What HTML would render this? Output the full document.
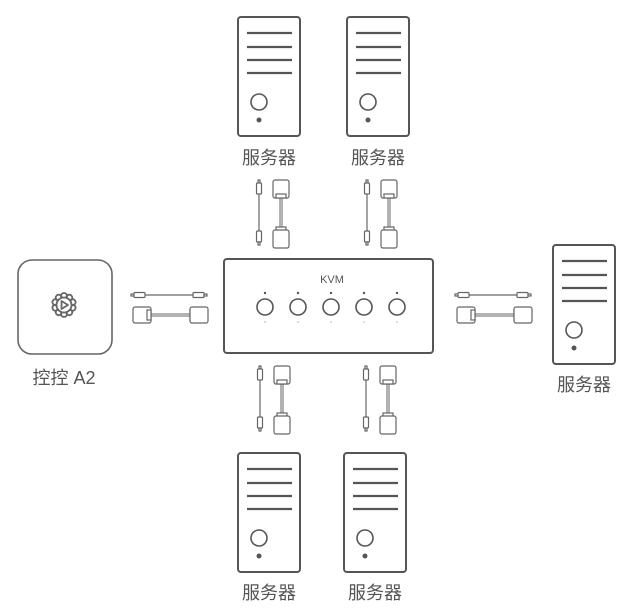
<!DOCTYPE html>
<html><head><meta charset="utf-8"><style>
html,body{margin:0;padding:0;background:#fff;}
svg{display:block;}
text{font-family:"Liberation Sans","Noto Sans CJK SC",sans-serif;fill:#555;}
</style></head><body>
<svg width="640" height="613" viewBox="0 0 640 613" xmlns="http://www.w3.org/2000/svg">
<defs>
<g id="srv">
<rect x="1" y="1" width="62" height="119" rx="3" fill="#fff" stroke="#555" stroke-width="2"/>
<g stroke="#555" stroke-width="2.2">
<line x1="10" y1="17" x2="55" y2="17"/><line x1="10" y1="31" x2="55" y2="31"/>
<line x1="10" y1="44" x2="55" y2="44"/><line x1="10" y1="57" x2="55" y2="57"/>
</g>
<circle cx="22" cy="86" r="8" fill="none" stroke="#555" stroke-width="1.6"/>
<circle cx="22" cy="104" r="2.5" fill="#555"/>
</g>
<g id="vc">
<g fill="#fff" stroke="#666" stroke-width="1.2">
<rect x="-1" y="0" width="2" height="3"/>
<rect x="-2.5" y="3" width="5" height="11" rx="1"/>
<line x1="0" y1="14" x2="0" y2="51"/>
<rect x="-2.5" y="51" width="5" height="11" rx="1"/>
<rect x="-1" y="62" width="2" height="3"/>
<rect x="14" y="0" width="16" height="18" rx="2"/>
<rect x="17" y="14" width="10" height="4"/>
<line x1="21" y1="18" x2="21" y2="50" stroke-width="1"/>
<line x1="23" y1="18" x2="23" y2="50" stroke-width="1"/>
<rect x="17" y="47" width="10" height="4"/>
<rect x="14" y="50" width="16" height="18" rx="2"/>
</g>
</g>
<g id="hc">
<g fill="#fff" stroke="#666" stroke-width="1.2">
<rect x="0" y="-1" width="3" height="2"/>
<rect x="3" y="-2.5" width="11" height="5" rx="1"/>
<line x1="14" y1="0" x2="62" y2="0"/>
<rect x="62" y="-2.5" width="11" height="5" rx="1"/>
<rect x="73" y="-1" width="3" height="2"/>
<rect x="2" y="12" width="18" height="16" rx="2"/>
<rect x="16" y="15" width="4" height="10"/>
<line x1="20" y1="19" x2="59" y2="19" stroke-width="1"/>
<line x1="20" y1="21" x2="59" y2="21" stroke-width="1"/>
<rect x="59" y="15" width="4" height="10"/>
<rect x="59" y="12" width="18" height="16" rx="2"/>
</g>
</g>
</defs>

<use href="#srv" x="237" y="16"/>
<use href="#srv" x="346" y="16"/>
<use href="#srv" x="552" y="244"/>
<use href="#srv" x="237" y="452"/>
<use href="#srv" x="343" y="452"/>

<g font-size="18" text-anchor="middle">
<text x="269" y="164">服务器</text>
<text x="378" y="164">服务器</text>
<text x="584" y="391">服务器</text>
<text x="269" y="599">服务器</text>
<text x="375" y="599">服务器</text>
<text x="64" y="384">控控 A2</text>
</g>

<use href="#vc" x="259" y="180"/>
<use href="#vc" x="367" y="180"/>
<use href="#vc" x="260" y="366"/>
<use href="#vc" x="366" y="366"/>
<use href="#hc" x="131" y="295"/>
<use href="#hc" x="455" y="295"/>

<rect x="224" y="259" width="209" height="94" rx="3" fill="#fff" stroke="#555" stroke-width="2"/>
<text x="332" y="283" font-size="11" text-anchor="middle">KVM</text>
<g fill="none" stroke="#555" stroke-width="1.6">
<circle cx="265" cy="307" r="8"/><circle cx="298" cy="307" r="8"/><circle cx="331" cy="307" r="8"/><circle cx="364" cy="307" r="8"/><circle cx="397" cy="307" r="8"/>
</g>
<g fill="#555">
<circle cx="265" cy="293" r="1.2"/><circle cx="298" cy="293" r="1.2"/><circle cx="331" cy="293" r="1.2"/><circle cx="364" cy="293" r="1.2"/><circle cx="397" cy="293" r="1.2"/>
</g>
<g fill="#bbb">
<rect x="264.5" y="321" width="1" height="2"/><rect x="297.5" y="321" width="1" height="2"/><rect x="330.5" y="321" width="1" height="2"/><rect x="363.5" y="321" width="1" height="2"/><rect x="396.5" y="321" width="1" height="2"/>
</g>

<rect x="18" y="260" width="94" height="94" rx="14" fill="#fff" stroke="#666" stroke-width="1.6"/>
<g transform="translate(64,305)" fill="none" stroke="#666" stroke-width="1.8">
<g>
<circle cx="0" cy="-9" r="3"/><circle cx="5.3" cy="-7.3" r="3"/><circle cx="8.6" cy="-2.8" r="3"/><circle cx="8.6" cy="2.8" r="3"/><circle cx="5.3" cy="7.3" r="3"/>
<circle cx="0" cy="9" r="3"/><circle cx="-5.3" cy="7.3" r="3"/><circle cx="-8.6" cy="2.8" r="3"/><circle cx="-8.6" cy="-2.8" r="3"/><circle cx="-5.3" cy="-7.3" r="3"/>
</g>
<circle r="7.5" fill="#fff"/>
<path d="M-2.5,-4 L4,0 L-2.5,4 Z" stroke-linejoin="round"/>
</g>
</svg>
</body></html>
